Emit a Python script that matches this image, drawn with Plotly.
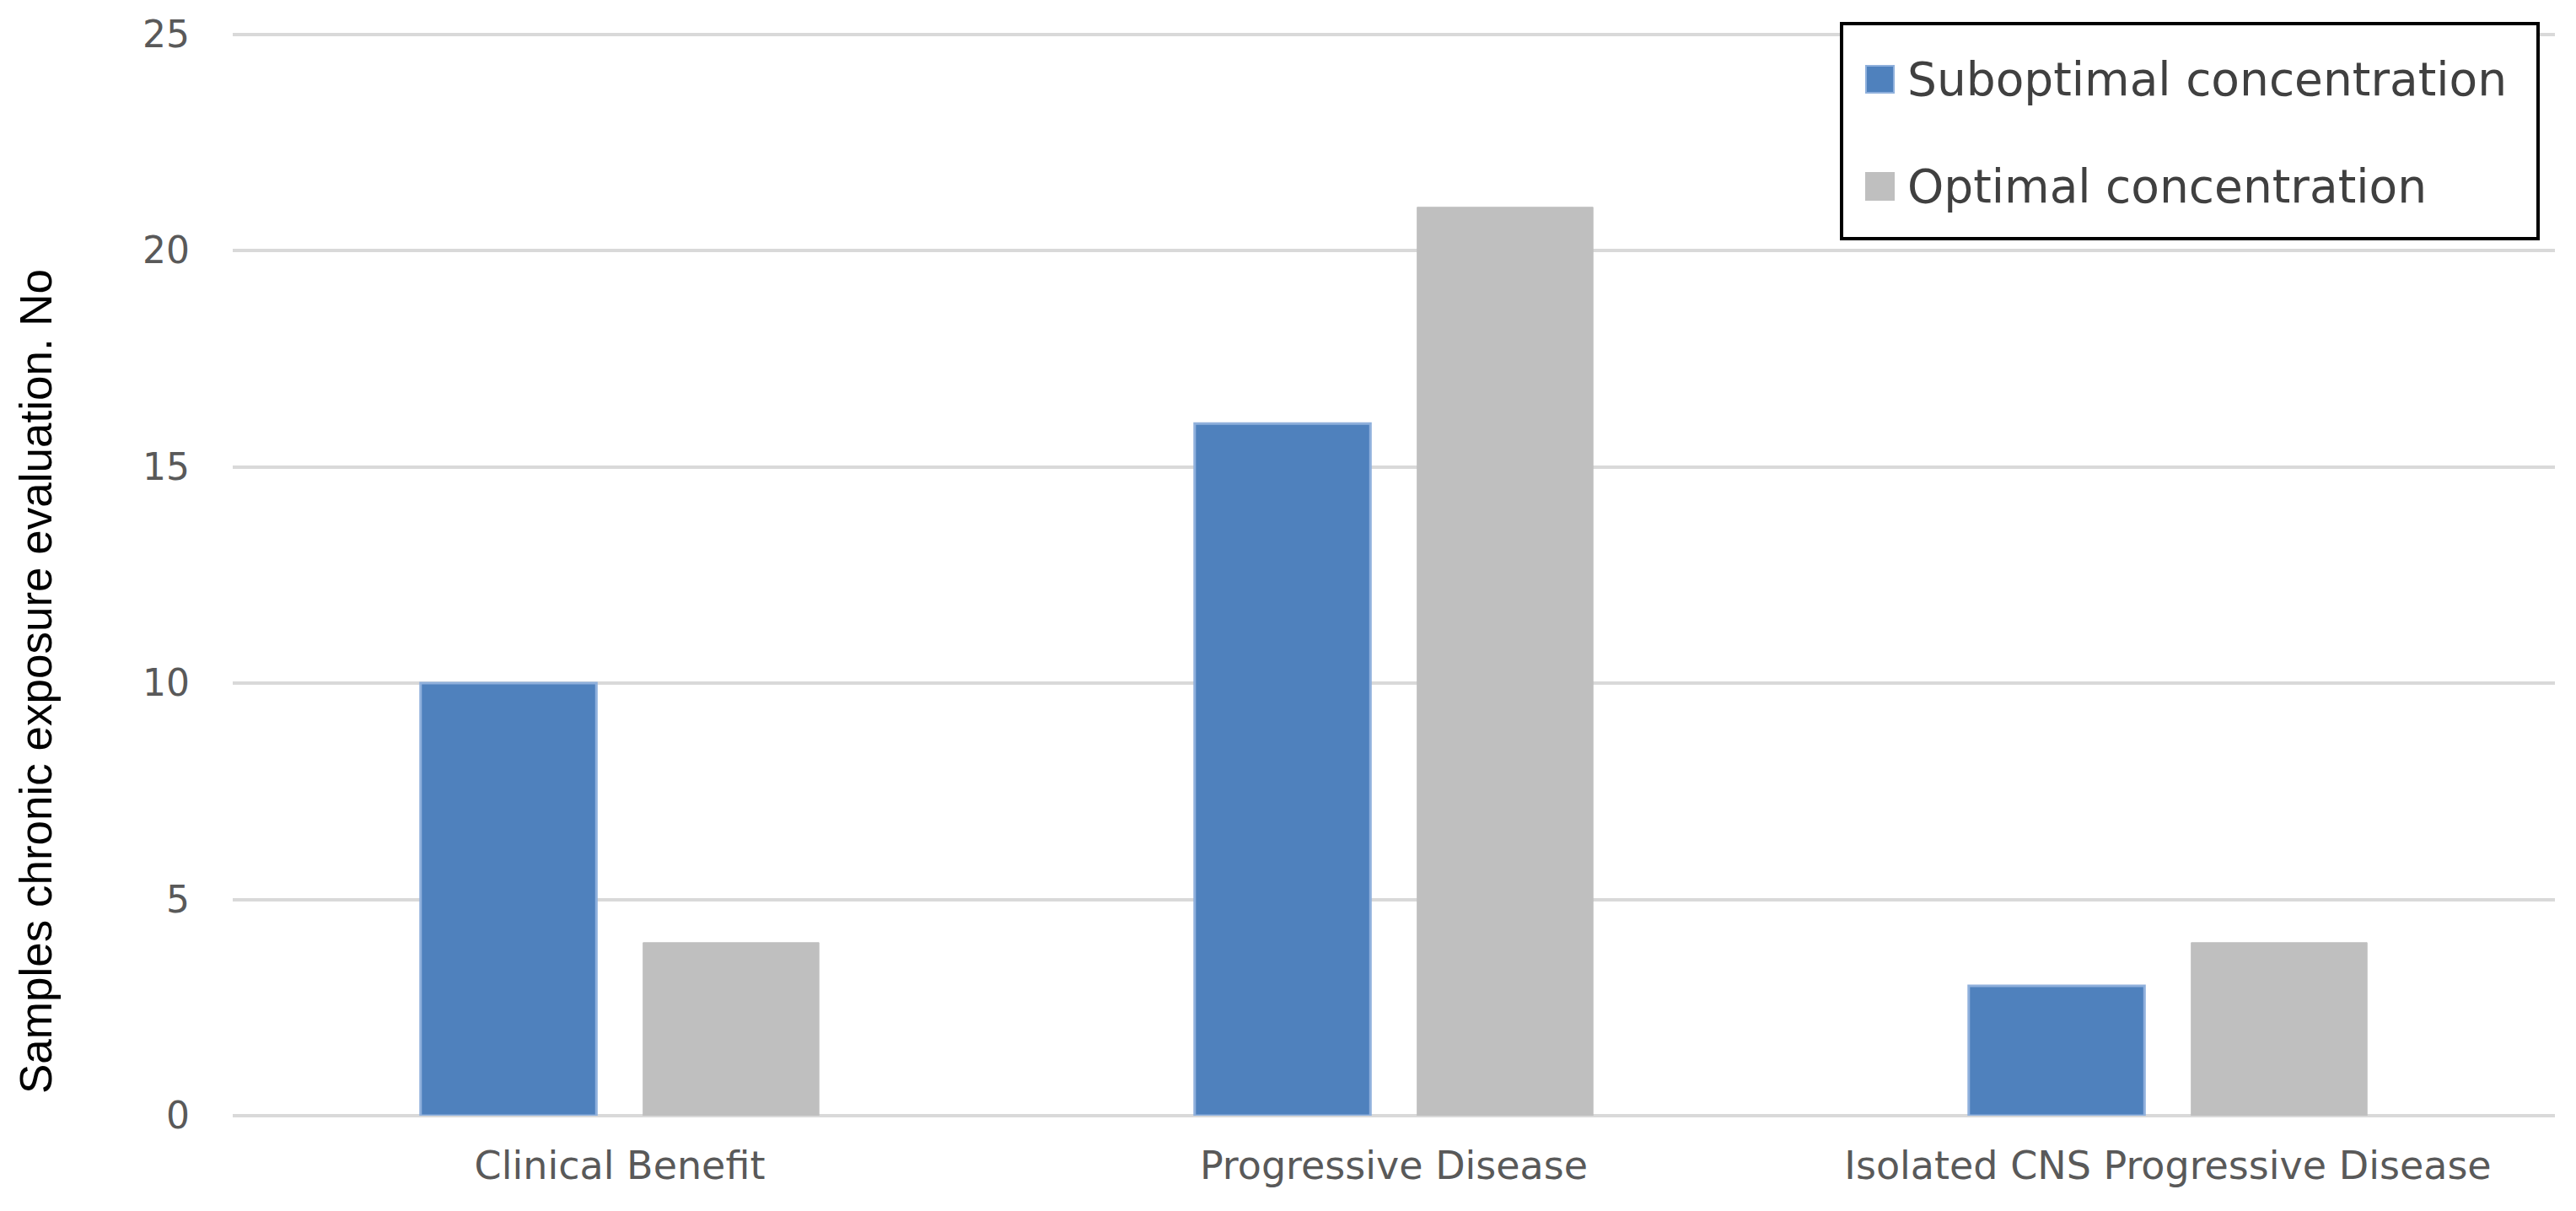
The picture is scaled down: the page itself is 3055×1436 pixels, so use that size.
import plotly.graph_objects as go

# ---------------------------------------------------------------- data
CATEGORIES = ["Clinical Benefit", "Progressive Disease", "Isolated CNS Progressive Disease"]
SERIES = ["Suboptimal concentration", "Optimal concentration"]
SUBOPTIMAL = [10, 16, 3]
OPTIMAL = [4, 21, 4]
Y_TICKS = [0, 5, 10, 15, 20, 25]
Y_TITLE = "Samples chronic exposure evaluation. No"

BLUE, BLUE_EDGE = "#4F81BD", "#8FB0DC"
GREY = "#BFBFBF"
TEXT = "#595959"

W, H = 3055, 1436
M = dict(l=276, r=25, t=39, b=113)

# ---------------------------------------------------------------- traces
fig = go.Figure()
fig.add_trace(go.Bar(x=CATEGORIES, y=SUBOPTIMAL, name=SERIES[0],
                     marker=dict(color=BLUE, line=dict(color=BLUE_EDGE, width=3))))
fig.add_trace(go.Bar(x=CATEGORIES, y=OPTIMAL, name=SERIES[1],
                     marker=dict(color=GREY, line=dict(color=GREY, width=1))))

# ---------------------------------------------------------------- layout
fig.update_layout(
    width=W, height=H, margin=dict(**M, pad=0),
    paper_bgcolor="white", plot_bgcolor="white",
    barmode="group", bargap=0.425, bargroupgap=0.21,
    showlegend=False,
    font=dict(family="DejaVu Sans", color=TEXT),
    xaxis=dict(showgrid=False, showline=False, ticks="",
               tickfont=dict(size=46, color=TEXT), ticklabelstandoff=28),
    yaxis=dict(range=[0, 25.03], tickvals=Y_TICKS, showgrid=True,
               gridcolor="#D9D9D9", gridwidth=4,
               zeroline=True, zerolinecolor="#D9D9D9", zerolinewidth=4,
               showline=False, ticks="", ticklabelstandoff=50,
               tickfont=dict(size=44, color=TEXT)),
)

# y title placed lower than plot centre, like the source
plot_w = W - M["l"] - M["r"]
plot_h = H - M["t"] - M["b"]
def px_x(p): return (p - M["l"]) / plot_w
def px_y(p): return (H - M["b"] - p) / plot_h

fig.add_annotation(text=Y_TITLE, textangle=-90, showarrow=False,
                   xref="paper", yref="paper", x=px_x(42), y=px_y(808),
                   xanchor="center", yanchor="middle",
                   font=dict(family="Liberation Sans", size=53, color="black"))

# ---------------------------------------------------------------- legend box (drawn)
fig.add_shape(type="rect", xref="paper", yref="paper",
              x0=px_x(2184), x1=px_x(3010), y0=px_y(283), y1=px_y(28),
              line=dict(color="black", width=4), fillcolor="white", layer="above")
for name, col, cy in [(SERIES[0], BLUE, 94), (SERIES[1], GREY, 221)]:
    fig.add_shape(type="rect", xref="paper", yref="paper",
                  x0=px_x(2213), x1=px_x(2246), y0=px_y(cy + 16), y1=px_y(cy - 16),
                  line=dict(color=BLUE_EDGE if col == BLUE else col, width=2),
                  fillcolor=col, layer="above")
    fig.add_annotation(text=name, showarrow=False, xref="paper", yref="paper",
                       x=px_x(2260), y=px_y(cy), xanchor="left", yanchor="middle",
                       font=dict(family="DejaVu Sans", size=55, color="#404040"))

fig.write_html("out.html", config={"displayModeBar": False},
               post_script="document.body.style.margin='0px';")
